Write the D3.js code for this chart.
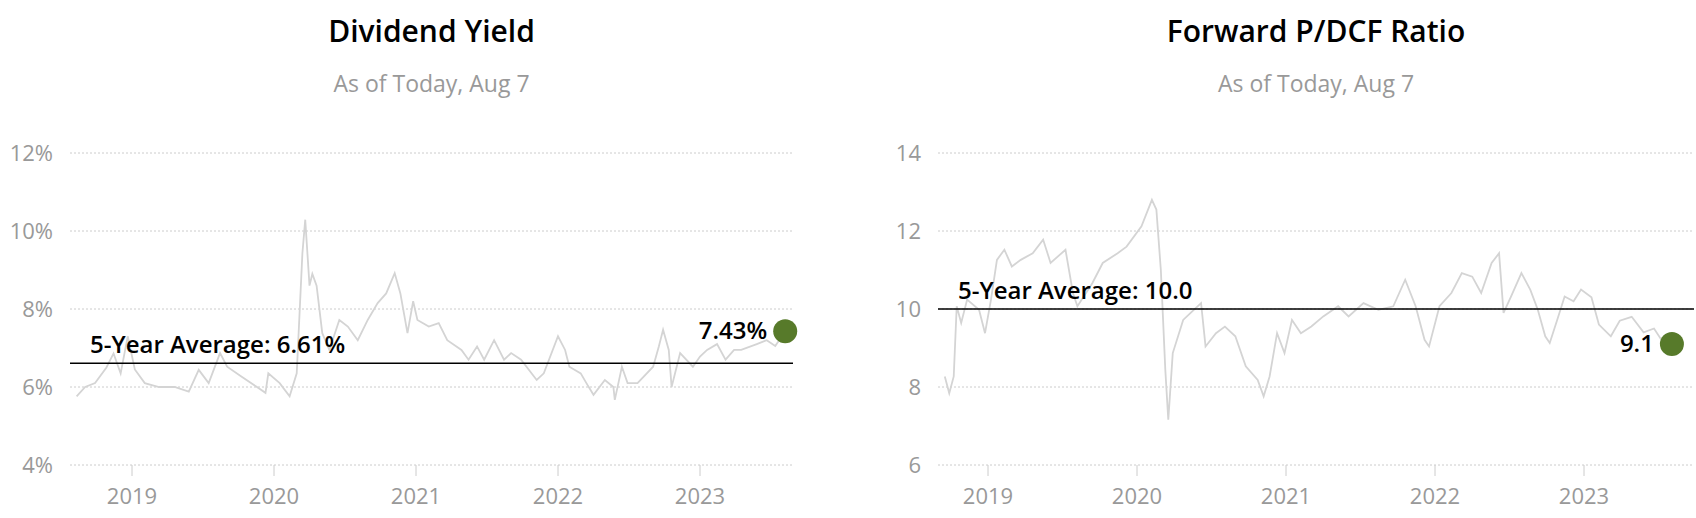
<!DOCTYPE html>
<html>
<head>
<meta charset="utf-8">
<script src="https://cdn.jsdelivr.net/npm/d3@7"></script>
<style>
  body { margin: 0; background: #fff; font-family: "Open Sans", sans-serif; }
</style>
</head>
<body>
<svg id="chart" width="1696" height="518"></svg>
<script>
// dividend yield, decimal year / percent
var yieldDates = [2018.61,2018.67,2018.74,2018.82,2018.87,2018.92,2018.97,2019.02,2019.09,2019.19,2019.3,2019.40,2019.47,2019.54,2019.62,2019.67,2019.77,2019.88,2019.94,2019.96,2020.04,2020.11,2020.16,2020.20,2020.22,2020.25,2020.27,2020.30,2020.34,2020.39,2020.46,2020.52,2020.59,2020.66,2020.73,2020.79,2020.85,2020.89,2020.94,2020.98,2021.01,2021.09,2021.16,2021.22,2021.32,2021.37,2021.43,2021.48,2021.55,2021.62,2021.67,2021.74,2021.85,2021.9,2022.0,2022.05,2022.08,2022.16,2022.2,2022.25,2022.33,2022.39,2022.40,2022.45,2022.49,2022.56,2022.67,2022.71,2022.74,2022.78,2022.80,2022.86,2022.95,2023.0,2023.05,2023.12,2023.18,2023.24,2023.29,2023.4,2023.47,2023.53,2023.6];
var yieldVals = [5.76,6.0,6.1,6.5,6.86,6.35,7.3,6.45,6.1,6.0,6.0,5.88,6.44,6.1,6.87,6.52,6.27,6.0,5.85,6.35,6.1,5.76,6.35,9.43,10.29,8.6,8.9,8.6,7.38,6.95,7.72,7.55,7.2,7.72,8.15,8.4,8.92,8.4,7.38,8.2,7.72,7.55,7.64,7.2,6.95,6.7,7.04,6.7,7.2,6.7,6.87,6.7,6.18,6.35,7.3,6.95,6.52,6.35,6.1,5.8,6.18,6.0,5.67,6.52,6.1,6.1,6.52,7.04,7.47,6.95,6.0,6.87,6.52,6.78,6.95,7.1,6.7,6.95,6.95,7.1,7.2,7.05,7.43];

// forward P/DCF
var pdcfDates = [2018.71,2018.74,2018.77,2018.79,2018.82,2018.86,2018.94,2018.98,2019.02,2019.06,2019.11,2019.16,2019.22,2019.30,2019.37,2019.42,2019.52,2019.57,2019.60,2019.70,2019.77,2019.87,2019.93,2020.03,2020.10,2020.13,2020.16,2020.19,2020.21,2020.24,2020.31,2020.36,2020.43,2020.46,2020.53,2020.59,2020.66,2020.73,2020.81,2020.85,2020.89,2020.94,2020.99,2021.04,2021.10,2021.17,2021.25,2021.35,2021.42,2021.52,2021.62,2021.72,2021.80,2021.87,2021.93,2021.96,2022.03,2022.11,2022.18,2022.25,2022.31,2022.38,2022.43,2022.46,2022.51,2022.58,2022.64,2022.69,2022.74,2022.77,2022.82,2022.87,2022.93,2022.98,2023.05,2023.1,2023.18,2023.24,2023.32,2023.4,2023.47,2023.53,2023.59];
var pdcfVals = [8.27,7.84,8.27,10.07,9.64,10.24,9.98,9.38,10.24,11.26,11.52,11.09,11.26,11.43,11.78,11.18,11.52,10.41,10.07,10.66,11.18,11.43,11.6,12.12,12.8,12.55,11.0,8.44,7.16,8.87,9.72,9.9,10.15,9.04,9.38,9.55,9.3,8.53,8.18,7.76,8.27,9.38,8.87,9.72,9.38,9.55,9.81,10.07,9.81,10.15,9.98,10.07,10.75,10.07,9.21,9.04,10.07,10.41,10.92,10.83,10.41,11.18,11.43,9.9,10.32,10.92,10.49,9.98,9.3,9.13,9.72,10.32,10.2,10.5,10.3,9.6,9.3,9.7,9.8,9.4,9.5,9.15,9.1];

var years = [2019, 2020, 2021, 2022, 2023];

var svg = d3.select("#chart");

function drawPanel(opt) {
    var g = svg.append("g");
    var x = d3.scaleLinear().domain([2019, 2020]).range([opt.x2019, opt.x2019 + opt.yearW]);
    var y = d3.scaleLinear().domain(opt.yDomain).range([465, 153]);
    var cx = (opt.left + opt.right) / 2;

    g.append("text").attr("x", cx).attr("y", 42).attr("text-anchor", "middle")
        .style("font-size", "30px").style("font-weight", 600).attr("fill", "#000").text(opt.title);
    g.append("text").attr("x", cx).attr("y", 92).attr("text-anchor", "middle")
        .style("font-size", "23px").attr("fill", "#999").text("As of Today, Aug 7");

    // grid + y labels
    opt.yTicks.forEach(function (t) {
        g.append("line").attr("x1", opt.left).attr("x2", opt.right)
            .attr("y1", y(t)).attr("y2", y(t))
            .attr("stroke", "#ccc").attr("stroke-dasharray", "2,2");
        g.append("text").attr("x", opt.left - 17).attr("y", y(t) + 8).attr("text-anchor", "end")
            .style("font-size", "22px").attr("fill", "#999").text(opt.fmt(t));
    });

    // year ticks
    years.forEach(function (yr) {
        g.append("line").attr("x1", x(yr)).attr("x2", x(yr)).attr("y1", 465).attr("y2", 476)
            .attr("stroke", "#ccc");
        g.append("text").attr("x", x(yr)).attr("y", 504).attr("text-anchor", "middle")
            .style("font-size", "22px").attr("fill", "#999").text(yr);
    });

    var pts = opt.dates.map(function (d, i) { return [d, opt.vals[i]]; });
    g.append("path").datum(pts)
        .attr("d", d3.line().x(function (d) { return x(d[0]); }).y(function (d) { return y(d[1]); }))
        .attr("fill", "none").attr("stroke", "#d4d4d4").attr("stroke-width", 1.8);

    // average line
    g.append("line").attr("x1", opt.left).attr("x2", opt.right)
        .attr("y1", y(opt.avg)).attr("y2", y(opt.avg)).attr("stroke", "#000").attr("stroke-width", 1.5);
    g.append("text").attr("x", opt.left + opt.avgDx).attr("y", y(opt.avg) - 10)
        .style("font-size", "24px").style("font-weight", 600).attr("fill", "#000")
        .text("5-Year Average: " + opt.avgText);

    // current value
    var last = pts[pts.length - 1];
    g.append("circle").attr("cx", x(last[0])).attr("cy", y(last[1])).attr("r", 12).attr("fill", "#577a2a");
    g.append("text").attr("x", x(last[0]) - 18).attr("y", y(last[1]) + 8).attr("text-anchor", "end")
        .style("font-size", "24px").style("font-weight", 600).attr("fill", "#000").text(opt.curText);
}

drawPanel({
    title: "Dividend Yield", left: 70, right: 793, x2019: 132, yearW: 142,
    yDomain: [4, 12], yTicks: [4, 6, 8, 10, 12], fmt: function (t) { return t + "%"; },
    dates: yieldDates, vals: yieldVals, avg: 6.61, avgText: "6.61%", avgDx: 20, curText: "7.43%"
});

drawPanel({
    title: "Forward P/DCF Ratio", left: 938, right: 1694, x2019: 988, yearW: 149,
    yDomain: [6, 14], yTicks: [6, 8, 10, 12, 14], fmt: function (t) { return t; },
    dates: pdcfDates, vals: pdcfVals, avg: 10.0, avgText: "10.0", avgDx: 20, curText: "9.1"
});
</script>
</body>
</html>
